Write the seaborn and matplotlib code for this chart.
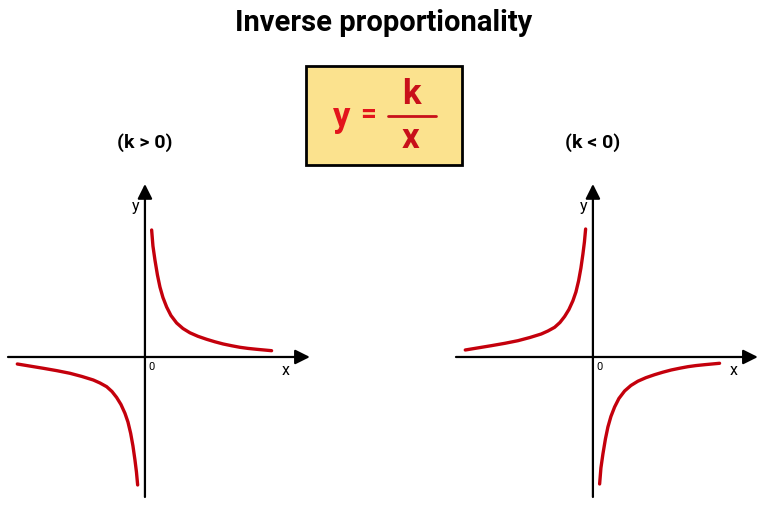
import matplotlib
matplotlib.use("Agg")
import matplotlib.pyplot as plt
import seaborn as sns
import pandas as pd
from matplotlib.patches import Rectangle

# points (1 unit = 10 px), k > 0 panel
x_pos = [0.67, 0.8, 1.0, 1.25, 1.5, 1.8, 2.17, 2.6, 3.17, 3.8, 4.5, 5.3, 6.17, 7.0, 7.83, 8.7, 9.5, 10.3, 11.17, 12.67]
y_pos = [12.7, 11.1, 9.7, 8.2, 7.0, 5.95, 5.0, 4.15, 3.4, 2.85, 2.42, 2.07, 1.77, 1.52, 1.3, 1.12, 0.97, 0.86, 0.77, 0.63]
x_neg = [-0.73, -0.85, -1.0, -1.2, -1.43, -1.7, -2.0, -2.4, -2.83, -3.3, -3.83, -4.5, -5.17, -6.3, -7.5, -8.8, -10.17, -12.77]
y_neg = [-12.8, -11.5, -10.3, -8.9, -7.63, -6.5, -5.63, -4.75, -4.05, -3.45, -2.97, -2.6, -2.3, -1.95, -1.63, -1.37, -1.13, -0.7]

panel_titles = ["(k > 0)", "(k < 0)"]
k_signs = [1, -1]
title = "Inverse proportionality"

sns.set_theme(style="white")
plt.rcParams["font.family"] = ["Roboto", "DejaVu Sans"]
plt.rcParams["text.color"] = "black"

curve_red = "#c4000c"
fig = plt.figure(figsize=(7.68, 5.12), dpi=100)
fig.patch.set_facecolor("white")

# panels: xlim (-14.5, 17), ylim (-15, 18)
positions = [[0.0, 0.0098, 0.41, 0.6445], [0.5833, 0.0098, 0.41, 0.6445]]

for pos, sgn, ttl in zip(positions, k_signs, panel_titles):
    ax = fig.add_axes(pos)
    ax.set_xlim(-14.5, 17)
    ax.set_ylim(-15, 18)
    ax.axis("off")

    # coordinate axes with arrowheads
    ax.annotate("", xy=(16.5, 0), xytext=(-13.7, 0),
                arrowprops=dict(arrowstyle="-|>", color="black", lw=1.6,
                                mutation_scale=22, shrinkA=0, shrinkB=0))
    ax.annotate("", xy=(0, 17.3), xytext=(0, -14.0),
                arrowprops=dict(arrowstyle="-|>", color="black", lw=1.6,
                                mutation_scale=22, shrinkA=0, shrinkB=0))

    br1 = pd.DataFrame({"x": x_pos, "y": [sgn * v for v in y_pos]})
    br2 = pd.DataFrame({"x": x_neg, "y": [sgn * v for v in y_neg]})
    for br in (br1, br2):
        sns.lineplot(data=br, x="x", y="y", ax=ax, color=curve_red, lw=2.4,
                     sort=False, estimator=None)

    ax.text(0.3, -0.5, "0", fontsize=8, ha="left", va="top")
    ax.text(14.1, -0.6, "x", fontsize=11.5, ha="center", va="top")
    ax.text(-0.9, 15.0, "y", fontsize=11.5, ha="center", va="center")

    cx = fig.transFigure.inverted().transform(ax.transData.transform((0, 0)))[0]
    fig.text(cx, 1 - 143 / 512, ttl, fontsize=14, fontweight="bold",
             ha="center", va="center")

fig.text(0.5, 1 - 23 / 512, title, fontsize=21, fontweight="bold",
         ha="center", va="center")

# formula box
fig.patches.append(Rectangle((306 / 768, 1 - 165 / 512), 156 / 768, 99 / 512,
                             transform=fig.transFigure, facecolor="#fbe28e",
                             edgecolor="black", lw=2))
eq_red = "#e3141c"
fig.text(342 / 768, 1 - 117 / 512, "y", fontsize=25, fontweight="bold",
         color=eq_red, ha="center", va="center")
fig.text(368 / 768, 1 - 115 / 512, "=", fontsize=20, fontweight="bold",
         color=eq_red, ha="center", va="center")
fig.text(411 / 768, 1 - 95 / 512, "k", fontsize=25, fontweight="bold",
         color="#c8101a", ha="center", va="center")
fig.text(411 / 768, 1 - 138 / 512, "x", fontsize=25, fontweight="bold",
         color="#c8101a", ha="center", va="center")
fig.lines.append(plt.Line2D([388 / 768, 436 / 768], [1 - 116 / 512] * 2,
                            transform=fig.transFigure, color="#c8101a", lw=2))

fig.savefig("out.png", dpi=100, facecolor="white")
